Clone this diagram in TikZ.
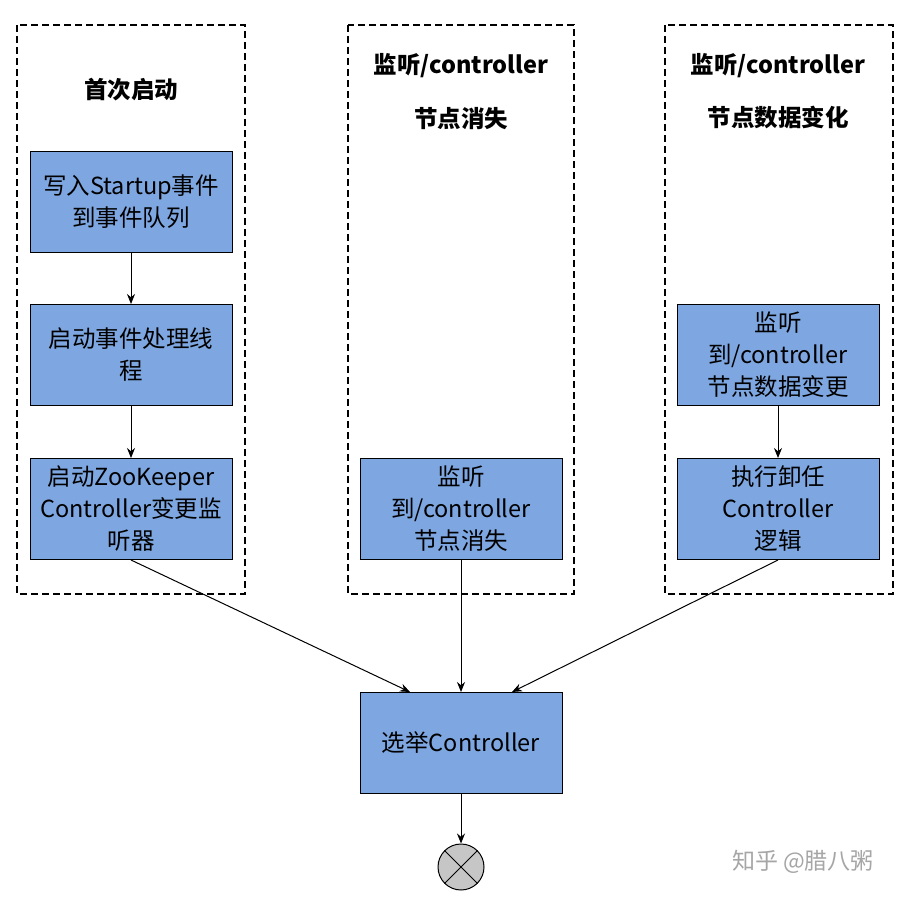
\documentclass[tikz,border=0pt]{standalone}
\usepackage{fontspec}
\setmainfont{Noto Sans CJK SC}
\usetikzlibrary{arrows.meta}
\definecolor{boxblue}{HTML}{7EA6E0}
\tikzset{
 grp/.style={draw=black,line width=2.4pt,dash pattern=on 7pt off 4pt},
 blk/.style={draw=black,fill=boxblue,line width=1pt,minimum width=202pt,minimum height=101pt,align=center,inner xsep=1pt,text width=199pt,font=\fontsize{23.5}{32}\selectfont},
 ttl/.style={font=\fontsize{23.5}{26}\selectfont\bfseries},
 arr/.style={-{Stealth[length=10pt,width=8pt]},line width=1pt}
}
\begin{document}
\begin{tikzpicture}[x=1pt,y=-1pt]
\useasboundingbox (0,0) rectangle (911,899);
\fill[white] (0,0) rectangle (911,899);
\draw[grp] (17,25) rectangle (245,594);
\draw[grp] (348,25) rectangle (574,594);
\draw[grp] (665,25) rectangle (893,594);
\node[ttl] (t1) at (131,90) {首次启动};
\node[ttl] (t2a) at (461,66) {监听/controller};
\node[ttl] (t2b) at (461,119) {节点消失};
\node[ttl] (t3a) at (778,66) {监听/controller};
\node[ttl] (t3b) at (778,117) {节点数据变化};
\node[blk] (a1) at (131,202) {写入Startup事件\\到事件队列};
\node[blk] (a2) at (131,355) {启动事件处理线\\程};
\node[blk] (a3) at (131,509) {启动ZooKeeper\\Controller变更监\\听器};
\node[blk] (b1) at (461,509) {监听\\到/controller\\节点消失};
\node[blk] (c1) at (778,355) {监听\\到/controller\\节点数据变更};
\node[blk] (c2) at (778,509) {执行卸任\\Controller\\逻辑};
\node[blk] (e) at (461,743) {选举Controller};
\node[circle,draw=black,fill=gray!45,line width=1pt,minimum size=46pt,inner sep=0pt] (end) at (461,867) {};
\draw[line width=1pt] (end.north west) -- (end.south east) (end.north east) -- (end.south west);
\draw[arr] (a1) -- (a2);
\draw[arr] (a2) -- (a3);
\draw[arr] (c1) -- (c2);
\draw[arr] (a3.south) -- ([xshift=-51pt]e.north);
\draw[arr] (b1) -- (e);
\draw[arr] (c2.south) -- ([xshift=51pt]e.north);
\draw[arr] (e) -- (end);
\node[text=gray!70,font=\fontsize{23}{26}\selectfont] (wm) at (803,862) {知乎 @腊八粥};
\end{tikzpicture}
\end{document}
